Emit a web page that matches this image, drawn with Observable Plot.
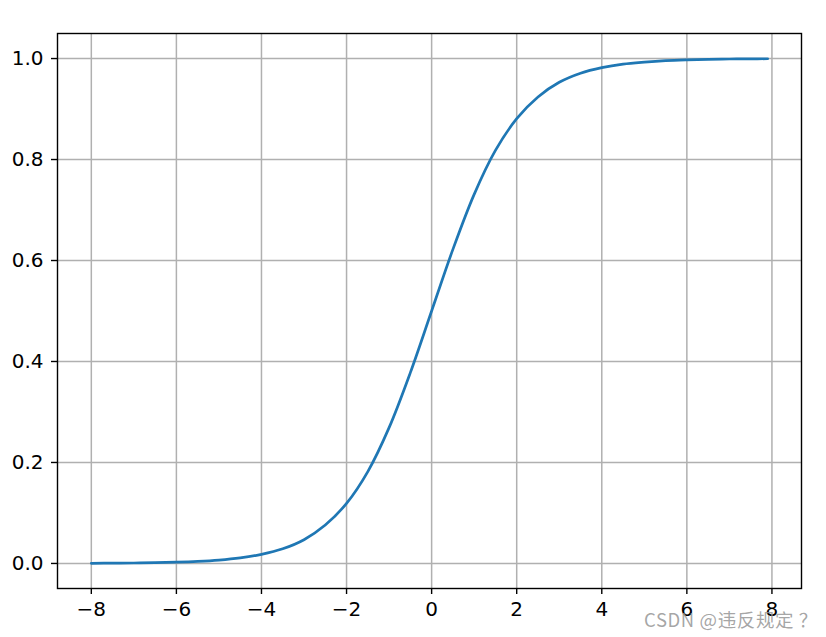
<!DOCTYPE html>
<html>
<head>
<meta charset="utf-8">
<script src="https://cdn.jsdelivr.net/npm/d3@7"></script>
<script src="https://cdn.jsdelivr.net/npm/@observablehq/plot@0.6"></script>
<style>
  html, body { margin: 0; padding: 0; background: #fff; }
  #wrap { position: relative; width: 826px; height: 637px; overflow: hidden; }
  #wm { position: absolute; left: 644px; top: 609px; font-family: "Noto Sans CJK SC", "DejaVu Sans", sans-serif; font-size: 18.5px; line-height: 21px; letter-spacing: 0.6px; color: rgba(150,150,150,0.85); white-space: nowrap; }
</style>
</head>
<body>
<div id="wrap"></div>
<script>
const xValues = [-8, -7.5, -7, -6.5, -6, -5.5, -5, -4.5, -4, -3.5, -3, -2.5, -2, -1.5, -1, -0.5, 0, 0.5, 1, 1.5, 2, 2.5, 3, 3.5, 4, 4.5, 5, 5.5, 6, 6.5, 7, 7.5, 7.9];
const yValues = [0.0003, 0.0006, 0.0009, 0.0015, 0.0025, 0.0041, 0.0067, 0.011, 0.018, 0.029, 0.047, 0.076, 0.119, 0.182, 0.269, 0.378, 0.5, 0.622, 0.731, 0.818, 0.881, 0.924, 0.953, 0.971, 0.982, 0.989, 0.993, 0.9959, 0.9975, 0.9985, 0.9991, 0.9994, 0.9996];
const xTicks = [-8, -6, -4, -2, 0, 2, 4, 6, 8];
const yTicks = [0.0, 0.2, 0.4, 0.6, 0.8, 1.0];

const data = xValues.map((x, i) => ({x, y: yValues[i]}));

const chart = Plot.plot({
  width: 826,
  height: 637,
  marginLeft: 57,
  marginRight: 25,
  marginTop: 33,
  marginBottom: 49,
  style: {fontFamily: "'DejaVu Sans', sans-serif", fontSize: "20px", color: "#000", background: "#fff"},
  x: {domain: [-8.795, 8.695]},
  y: {domain: [-0.0496, 1.0496]},
  marks: [
    Plot.gridX(xTicks, {stroke: "#b0b0b0", strokeOpacity: 1, strokeWidth: 1.5}),
    Plot.gridY(yTicks, {stroke: "#b0b0b0", strokeOpacity: 1, strokeWidth: 1.5}),
    Plot.line(data, {x: "x", y: "y", stroke: "#1f77b4", strokeWidth: 2.7, curve: "catmull-rom"}),
    Plot.frame({stroke: "#000", strokeWidth: 1.4}),
    Plot.axisX({ticks: xTicks, tickSize: 6, tickPadding: 7, tickFormat: d => (d < 0 ? "\u2212" + Math.abs(d) : String(d)), label: null, strokeWidth: 1.4}),
    Plot.axisY({ticks: yTicks, tickSize: 6, tickPadding: 8, tickFormat: d => d.toFixed(1), label: null, strokeWidth: 1.4})
  ]
});
const wrap = document.getElementById("wrap");
wrap.appendChild(chart);
const wm = document.createElement("div");
wm.id = "wm";
wm.textContent = "CSDN @违反规定 ？";
wrap.appendChild(wm);
</script>
</body>
</html>
